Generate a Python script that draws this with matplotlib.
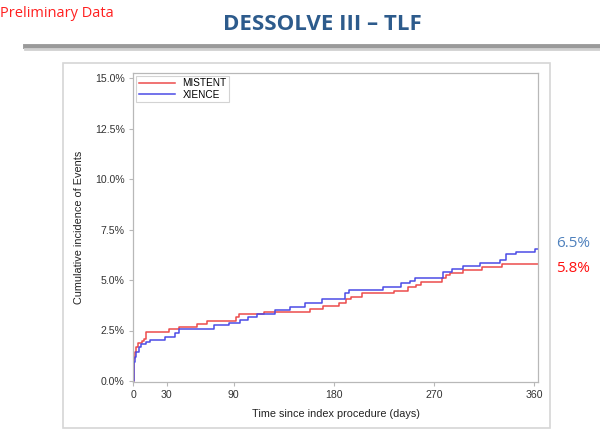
import matplotlib
matplotlib.use('Agg')
import matplotlib.pyplot as plt
from matplotlib.lines import Line2D
from matplotlib.patches import Rectangle
from matplotlib.ticker import FuncFormatter

# Kaplan-Meier style cumulative incidence (%)
mistent_days = [0, 0.3, 1.2, 2.4, 3.8, 7.8, 9.3, 11.4, 31.7, 40.6, 57, 66, 92, 95,
                117, 159, 170, 185, 191, 195, 205, 234, 247, 254, 258, 277, 281,
                284, 296, 313, 331, 363]
mistent_pct = [0, 1.14, 1.45, 1.7, 1.86, 2.0, 2.1, 2.42, 2.58, 2.68, 2.82, 2.98,
               3.15, 3.3, 3.43, 3.56, 3.71, 3.88, 4.04, 4.17, 4.34, 4.47, 4.64,
               4.75, 4.92, 5.08, 5.25, 5.36, 5.49, 5.63, 5.79, 5.79]

xience_days = [0, 0.2, 0.6, 1.2, 2.7, 4.8, 7.2, 11.4, 15, 28.7, 37.7, 41.3, 72,
               86, 96, 103, 111, 127, 141, 154, 169, 190, 194, 224, 240, 248,
               253, 278, 286, 296, 311, 329, 335, 343.5, 360.5, 363]
xience_pct = [0, 0.7, 0.96, 1.2, 1.45, 1.7, 1.83, 1.95, 2.03, 2.19, 2.36, 2.56,
              2.75, 2.89, 3.02, 3.18, 3.3, 3.51, 3.65, 3.85, 4.04, 4.34, 4.53,
              4.67, 4.83, 4.97, 5.08, 5.38, 5.53, 5.69, 5.86, 5.99, 6.29, 6.4,
              6.55, 6.55]

x_ticks = [0, 30, 90, 180, 270, 360]
y_ticks = [0, 2.5, 5, 7.5, 10, 12.5, 15]
end_labels = ['6.5%', '5.8%']

red = '#ec4b4b'
blue = '#4b4be6'
axis_gray = '#b8b8b8'

plt.rcParams['font.family'] = ['Liberation Sans', 'DejaVu Sans']

fig = plt.figure(figsize=(6, 4.34), dpi=100)

# slide header
fig.text(0.0, 0.97, 'Preliminary Data', color='#ff2020', fontsize=10.5,
         family=['Open Sans', 'DejaVu Sans'], va='center', ha='left')
fig.text(0.538, 0.943, 'DESSOLVE III – TLF', color='#2d5b8c', fontsize=16,
         family=['Open Sans', 'DejaVu Sans'], weight='bold', va='center', ha='center')
fig.add_artist(Line2D([0.042, 1.0], [0.893, 0.893], color='#9a9a9a', lw=3.5,
                      transform=fig.transFigure))
fig.add_artist(Line2D([0.042, 1.0], [0.887, 0.887], color='#d0d0d0', lw=2,
                      transform=fig.transFigure))

# outer frame of the chart picture
fig.add_artist(Rectangle((63 / 600, 1 - 428 / 434), 487 / 600, 365 / 434,
                         fill=False, ec='#d6d6d6', lw=1.2, transform=fig.transFigure))

ax = fig.add_axes([133 / 600, 1 - 382 / 434, 405 / 600, 309 / 434])
ax.plot(mistent_days, mistent_pct, drawstyle='steps-post', color=red, lw=1.1,
        label='MISTENT')
ax.plot(xience_days, xience_pct, drawstyle='steps-post', color=blue, lw=1.1,
        label='XIENCE')

ax.set_xlim(-0.3, 363.3)
ax.set_ylim(-0.05, 15.25)
ax.set_xticks(x_ticks)
ax.set_yticks(y_ticks)
ax.yaxis.set_major_formatter(FuncFormatter(lambda v, p: '{0:.1f}%'.format(v)))
ax.tick_params(labelsize=7.6, colors='#333333', length=3, width=0.8, pad=3)
ax.tick_params(axis='both', color=axis_gray)
for s in ax.spines.values():
    s.set_color(axis_gray)
    s.set_linewidth(0.9)

ax.set_xlabel('Time since index procedure (days)', fontsize=7.8, color='#222222',
              labelpad=6)
ax.set_ylabel('Cumulative incidence of Events', fontsize=7.8, color='#222222',
              labelpad=8)

leg = ax.legend(loc='upper left', fontsize=7.2, handlelength=3.6, frameon=True,
                fancybox=False, borderpad=0.25, labelspacing=0.1,
                borderaxespad=0.3, handletextpad=0.8)
leg.get_frame().set_edgecolor('#c8c8c8')
leg.get_frame().set_linewidth(0.8)

# end-of-curve values, placed beside the plot at the curve's last level
ax.annotate(end_labels[0], xy=(1.0, xience_pct[-1]), xycoords=('axes fraction', 'data'),
            xytext=(13, 3.5), textcoords='offset points', color='#4f81bd',
            fontsize=11, family=['Open Sans', 'DejaVu Sans'], va='center',
            annotation_clip=False)
ax.annotate(end_labels[1], xy=(1.0, mistent_pct[-1]), xycoords=('axes fraction', 'data'),
            xytext=(13, -3), textcoords='offset points', color='#ff1010',
            fontsize=11, family=['Open Sans', 'DejaVu Sans'], va='center',
            annotation_clip=False)

fig.savefig('out.png', dpi=100)
